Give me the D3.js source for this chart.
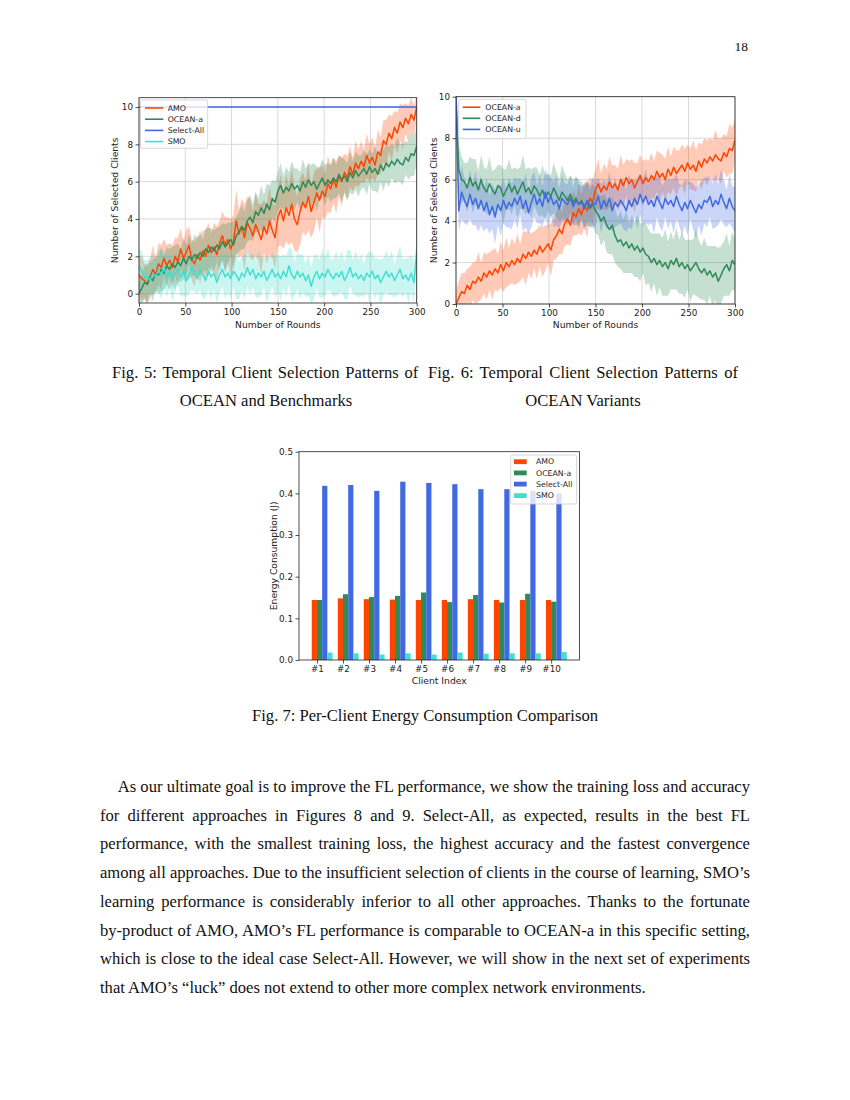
<!DOCTYPE html>
<html><head><meta charset="utf-8">
<script src="https://cdn.jsdelivr.net/npm/d3@7/dist/d3.min.js"></script>
<style>body{margin:0;background:#fff}</style>
</head><body>
<svg id="page" width="850" height="1100" xmlns="http://www.w3.org/2000/svg"></svg>
<script>
// ---------------- DATA ----------------
const rounds = d3.range(0, 301, 3); // round index, every 3 rounds

// Fig. 5 series (mean)
const amo = [
 1.0,0.8,0.7,0.5,0.9,1.3,1.0,1.6,1.4,1.9,
 1.5,1.8,1.4,2.0,1.7,2.4,1.9,2.2,2.6,1.8,
 1.6,2.1,1.8,2.3,2.0,2.6,2.2,2.5,2.1,2.7,
 3.1,2.6,2.9,2.4,2.8,3.9,3.2,3.6,3.0,3.8,
 3.5,3.1,3.7,3.3,2.9,3.6,3.2,3.9,3.4,3.0,
 4.1,4.5,3.9,4.6,4.2,4.8,4.0,3.7,4.4,4.9,
 4.6,5.2,4.4,4.9,5.4,5.0,5.5,5.2,5.9,5.6,
 6.1,5.7,6.3,6.0,6.5,6.2,6.8,6.4,7.0,6.7,
 7.1,6.8,7.4,7.0,7.3,6.9,7.6,7.4,8.2,8.0,
 8.6,8.3,8.9,8.6,9.2,8.9,9.4,9.1,9.6,9.3,10.0];
const amoSpread = [
 1.0,1.2,0.9,1.1,1.0,1.3,0.9,1.1,1.2,1.0,
 1.1,0.9,1.2,1.0,1.3,1.1,0.9,1.2,1.0,1.1,
 1.2,1.0,1.3,1.1,1.4,1.2,1.0,1.3,1.5,1.2,
 1.3,1.5,1.2,1.6,1.4,1.7,1.3,1.5,1.8,1.4,
 1.6,1.3,1.7,1.5,1.9,1.4,1.6,1.8,1.5,1.7,
 1.6,1.9,1.5,1.8,1.6,2.0,1.7,1.5,1.8,1.6,
 1.5,1.8,1.4,1.6,1.3,1.7,1.4,1.2,1.5,1.3,
 1.2,1.4,1.1,1.3,1.0,1.2,1.1,0.9,1.2,1.0,
 1.1,0.9,1.2,1.0,1.1,0.9,1.2,1.0,1.1,1.3,
 1.0,1.2,0.9,1.1,1.0,1.2,0.8,1.0,0.9,0.8,0.7];
const oceanA = [
 0.0,0.3,0.6,0.5,0.9,0.7,1.1,1.0,1.3,1.1,
 1.5,1.3,1.6,1.4,1.7,1.5,1.9,1.6,2.0,1.8,
 2.1,1.9,2.2,2.0,2.4,2.2,2.5,2.3,2.6,2.4,
 2.8,2.5,2.7,2.9,2.6,3.1,3.3,3.6,3.4,3.9,
 4.1,3.8,4.4,4.2,4.6,4.3,4.8,4.5,5.1,4.9,
 5.5,5.8,5.4,5.7,5.5,5.9,5.6,5.8,5.5,6.0,
 5.7,6.1,5.8,6.0,5.6,5.9,6.2,5.8,6.1,5.9,
 6.2,6.0,6.4,6.1,6.3,6.0,6.5,6.2,6.6,6.3,
 6.5,6.7,6.4,6.8,6.5,6.7,6.4,6.9,6.6,7.0,
 6.8,7.1,6.9,7.2,7.0,6.9,7.3,7.1,7.5,7.4,7.9];
const oceanASpread = [
 0.6,0.8,0.9,1.0,0.8,1.1,0.9,1.0,1.2,0.9,
 1.0,1.1,0.9,1.2,1.0,0.9,1.1,1.0,1.2,0.9,
 1.1,1.0,1.2,0.9,1.1,1.3,1.0,1.1,0.9,1.2,
 1.0,1.2,1.1,0.9,1.3,1.0,1.1,1.2,1.0,1.1,
 1.2,1.0,1.1,0.9,1.2,1.0,1.1,1.3,1.0,1.1,
 1.0,1.2,0.9,1.1,1.0,1.2,1.1,0.9,1.0,1.2,
 1.0,0.9,1.1,1.0,1.2,0.9,1.0,1.1,0.9,1.0,
 1.1,0.9,1.0,1.2,0.9,1.0,1.1,0.9,1.0,1.1,
 0.9,1.0,1.1,0.9,1.0,1.2,1.0,0.9,1.1,1.0,
 1.1,0.9,1.0,1.2,1.0,1.1,0.9,1.0,1.2,1.1,1.0];
const selectAllRounds = [0, 300];
const selectAll = [10, 10];
const smo = [
 1.5,1.2,0.8,1.0,0.7,1.1,0.9,1.3,1.0,1.4,
 0.9,1.2,0.8,1.1,1.3,0.9,1.2,0.7,1.0,1.4,
 1.1,0.8,1.3,1.0,0.7,1.2,0.9,1.1,0.6,1.0,
 1.3,0.9,1.1,0.8,1.2,1.0,0.7,1.1,0.9,1.4,
 1.0,1.3,0.8,1.1,0.9,1.2,0.7,1.0,1.3,0.9,
 1.1,0.8,1.2,0.9,1.5,1.0,0.8,1.2,0.9,1.1,
 0.7,1.0,0.4,0.9,1.2,0.8,1.1,0.9,1.3,1.0,
 0.8,1.1,0.9,1.2,0.7,1.0,1.4,0.9,1.1,0.8,
 1.0,0.7,1.1,0.9,1.2,0.8,1.0,0.6,0.9,1.2,
 0.9,1.1,0.7,1.0,1.3,0.8,1.0,0.7,1.1,0.6,2.2];
const smoSpread = [
 0.9,1.1,1.0,0.8,1.2,1.0,0.9,1.1,1.3,1.0,
 1.1,0.9,1.2,1.0,0.8,1.1,1.3,0.9,1.0,1.2,
 1.0,0.8,1.1,1.3,0.9,1.0,1.2,0.9,1.1,1.0,
 0.9,1.2,1.0,1.1,0.8,1.3,1.0,0.9,1.2,1.0,
 1.1,0.9,1.0,1.3,1.0,0.8,1.2,1.0,0.9,1.1,
 1.0,1.2,0.9,1.1,1.0,1.4,0.9,1.0,1.2,1.0,
 0.9,1.1,1.0,1.2,0.9,1.0,1.3,1.0,1.1,0.9,
 1.0,1.2,0.9,1.1,1.0,1.3,1.0,0.9,1.2,1.0,
 1.1,0.9,1.0,1.4,1.0,1.1,0.9,1.2,1.0,1.1,
 1.0,1.2,0.9,1.1,1.3,1.0,0.9,1.2,1.0,1.1,0.6];

// Fig. 6 series (OCEAN-a shared with Fig. 5)
const oceanD = [
 10.0,6.5,6.0,5.9,5.6,6.1,5.7,5.9,5.5,6.0,
 5.6,5.4,5.8,5.5,5.3,5.7,5.6,5.2,5.5,5.8,
 5.4,5.7,5.3,5.6,5.9,5.4,5.6,5.3,5.7,5.5,
 5.2,5.5,5.1,5.4,5.2,5.6,5.3,5.0,5.4,5.2,
 5.0,5.3,4.9,5.1,4.8,5.0,4.7,4.9,4.6,4.8,
 4.5,4.3,4.0,4.2,3.8,3.6,3.8,3.3,3.0,3.1,
 2.8,3.0,2.7,2.9,2.6,2.8,2.5,2.7,2.4,2.3,
 2.0,2.2,1.9,2.1,1.8,2.0,1.7,2.1,1.9,2.2,
 1.8,2.0,1.7,1.9,1.6,1.8,2.0,1.7,1.5,1.7,
 1.4,1.6,1.3,1.5,1.1,1.4,1.7,1.9,1.6,2.1,1.9];
const oceanDSpread = [
 1.0,1.2,1.1,0.9,1.2,1.0,1.3,1.1,0.9,1.2,
 1.0,1.1,1.3,0.9,1.2,1.0,1.1,1.3,1.0,1.2,
 1.1,0.9,1.2,1.0,1.3,1.1,1.0,1.2,0.9,1.1,
 1.0,1.2,1.1,0.9,1.0,1.2,1.1,1.0,1.3,1.1,
 1.0,0.9,1.1,1.0,1.2,0.9,1.0,1.1,0.9,1.0,
 1.1,1.0,1.2,1.1,1.3,1.2,1.4,1.3,1.2,1.4,
 1.3,1.5,1.2,1.4,1.3,1.5,1.4,1.2,1.5,1.3,
 1.4,1.2,1.5,1.3,1.4,1.6,1.3,1.4,1.2,1.5,
 1.3,1.5,1.4,1.2,1.5,1.3,1.6,1.4,1.3,1.5,
 1.4,1.2,1.5,1.3,1.6,1.4,1.3,1.5,1.2,1.4,1.3];
const oceanU = [
 10.0,4.5,5.4,5.0,4.7,5.3,4.8,5.1,4.6,5.0,
 4.5,4.9,4.3,4.7,4.2,4.8,4.5,5.0,4.6,4.9,
 4.7,5.1,4.8,5.2,4.6,5.0,4.4,4.9,5.3,4.8,
 5.1,4.7,5.4,4.9,5.2,4.8,5.0,4.6,5.1,4.9,
 4.8,5.1,4.7,5.0,4.8,4.9,4.6,5.0,4.7,4.9,
 4.8,5.2,4.6,5.0,4.7,5.1,4.5,4.9,4.7,5.0,
 4.8,4.5,5.0,4.7,5.1,4.8,5.3,4.9,5.2,4.8,
 5.0,4.7,5.2,4.9,4.6,5.1,4.8,5.0,4.7,5.2,
 4.8,4.5,4.9,4.6,5.0,4.7,4.4,4.8,4.6,5.0,
 4.9,5.2,4.7,5.0,4.8,5.3,4.9,4.6,5.1,4.7,4.5];
const oceanUSpread = [
 1.2,1.0,1.3,1.1,0.9,1.2,1.0,1.3,1.1,1.2,
 1.0,1.2,0.9,1.1,1.3,1.0,1.2,1.1,0.9,1.2,
 1.1,1.0,1.2,0.9,1.1,1.3,1.0,1.2,1.1,0.9,
 1.2,1.0,1.1,1.3,0.9,1.1,1.2,1.0,1.1,0.9,
 1.0,1.1,0.9,1.2,1.0,0.8,1.1,0.9,1.0,1.2,
 1.1,0.9,1.2,1.0,1.1,1.3,1.0,1.2,0.9,1.1,
 1.2,1.0,1.3,1.1,0.9,1.2,1.0,1.1,1.3,1.0,
 1.1,1.3,1.0,1.2,1.1,0.9,1.2,1.0,1.3,1.1,
 1.0,1.2,1.1,1.3,0.9,1.1,1.2,1.0,1.3,1.1,
 1.2,1.0,1.1,1.3,1.0,1.2,1.1,0.9,1.2,1.0,1.1];

// Fig. 7 per-client energy (J)
const clients = ["#1","#2","#3","#4","#5","#6","#7","#8","#9","#10"];
const energyAMO       = [0.144,0.148,0.146,0.145,0.144,0.144,0.146,0.144,0.144,0.144];
const energyOCEANa    = [0.144,0.158,0.151,0.154,0.162,0.139,0.156,0.138,0.159,0.140];
const energySelectAll = [0.418,0.420,0.406,0.428,0.425,0.422,0.410,0.410,0.406,0.400];
const energySMO       = [0.018,0.016,0.013,0.016,0.013,0.018,0.015,0.016,0.016,0.019];

const roundTicks = [0,50,100,150,200,250,300];
const clientTicks6 = [0,2,4,6,8,10];
const energyTicks = [0,0.1,0.2,0.3,0.4,0.5];

// ---------------- STYLE ----------------
const C = {orange:"#ff4500", green:"#2e8b57", blue:"#4169e1", cyan:"#40e0d0"};
const SANS = "DejaVu Sans, sans-serif";
const SERIF = "Liberation Serif, Times New Roman, serif";
const svg = d3.select("#page");
svg.append("rect").attr("width",850).attr("height",1100).attr("fill","#fff");

function styleAxis(g){
  g.select(".domain").remove();
  g.selectAll(".tick line").attr("stroke","#222").attr("stroke-width",0.8);
  g.selectAll(".tick text").attr("fill","#222").style("font-family",SANS).style("font-size","8.8px");
}

function legend(g, box, items, type){
  g.append("rect").attr("x",box.x0).attr("y",box.y0)
   .attr("width",box.x1-box.x0).attr("height",box.y1-box.y0)
   .attr("rx",2).attr("fill","#fff").attr("fill-opacity",0.8)
   .attr("stroke","#cccccc").attr("stroke-width",0.8);
  items.forEach((it,i)=>{
    const yy = box.ys[i];
    if(type==="line"){
      g.append("line").attr("x1",box.hx0).attr("x2",box.hx1).attr("y1",yy).attr("y2",yy)
       .attr("stroke",it.color).attr("stroke-width",1.6);
    } else {
      g.append("rect").attr("x",box.hx0).attr("y",yy-2.4).attr("width",box.hx1-box.hx0).attr("height",4.8)
       .attr("fill",it.color);
    }
    g.append("text").attr("x",box.tx).attr("y",yy).attr("dy","0.35em")
     .style("font-family",SANS).style("font-size","7.8px").attr("fill","#222").text(it.name);
  });
}

let clipId = 0;
function lineChart(o){
  const g = svg.append("g");
  const x = d3.scaleLinear().domain([0,300]).range([o.left,o.right]);
  const y = d3.scaleLinear().domain(o.yDomain).range([o.bottom,o.top]);
  // grid
  g.append("g").selectAll("line").data(roundTicks).join("line")
    .attr("x1",d=>x(d)).attr("x2",d=>x(d)).attr("y1",o.top).attr("y2",o.bottom)
    .attr("stroke","#cfcfcf").attr("stroke-width",0.8);
  g.append("g").selectAll("line").data(clientTicks6).join("line")
    .attr("x1",o.left).attr("x2",o.right).attr("y1",d=>y(d)).attr("y2",d=>y(d))
    .attr("stroke","#cfcfcf").attr("stroke-width",0.8);
  const id = "clip"+(clipId++);
  g.append("clipPath").attr("id",id).append("rect")
    .attr("x",o.left).attr("y",o.top).attr("width",o.right-o.left).attr("height",o.bottom-o.top);
  const plot = g.append("g").attr("clip-path",`url(#${id})`);
  o.series.forEach(s=>{
    if(!s.spread) return;
    const area = d3.area().x((d,i)=>x(s.xs[i])).y0((d,i)=>y(d-s.spread[i])).y1((d,i)=>y(d+s.spread[i]));
    plot.append("path").attr("d",area(s.values)).attr("fill",s.color).attr("fill-opacity",0.28);
  });
  o.series.forEach(s=>{
    const line = d3.line().x((d,i)=>x(s.xs[i])).y(d=>y(d));
    plot.append("path").attr("d",line(s.values)).attr("fill","none")
      .attr("stroke",s.color).attr("stroke-width",1.5).attr("stroke-linejoin","round");
  });
  // axes
  const ax = g.append("g").attr("transform",`translate(0,${o.bottom})`)
    .call(d3.axisBottom(x).tickValues(roundTicks).tickSize(3.5).tickPadding(2.5).tickFormat(d3.format("d")));
  styleAxis(ax);
  const ay = g.append("g").attr("transform",`translate(${o.left},0)`)
    .call(d3.axisLeft(y).tickValues(clientTicks6).tickSize(3.5).tickPadding(2.5).tickFormat(d3.format("d")));
  styleAxis(ay);
  g.append("rect").attr("x",o.left).attr("y",o.top).attr("width",o.right-o.left).attr("height",o.bottom-o.top)
    .attr("fill","none").attr("stroke","#222").attr("stroke-width",0.8);
  g.append("text").attr("x",(o.left+o.right)/2).attr("y",o.xLabelY).attr("text-anchor","middle").attr("dy","0.35em")
    .style("font-family",SANS).style("font-size","9.2px").attr("fill","#222").text("Number of Rounds");
  g.append("text").attr("transform",`translate(${o.yLabelX},${(o.top+o.bottom)/2}) rotate(-90)`)
    .attr("text-anchor","middle").attr("dy","0.35em")
    .style("font-family",SANS).style("font-size","9.2px").attr("fill","#222").text("Number of Selected Clients");
  legend(g, o.legendBox, o.series.map(s=>({name:s.name,color:s.color})), "line");
}

// Fig. 5
lineChart({
  left:139, right:416.7, top:97.7, bottom:303, yDomain:[-0.5,10.5],
  xLabelY:324.3, yLabelX:115,
  series:[
    {name:"AMO", color:C.orange, xs:rounds, values:amo, spread:amoSpread},
    {name:"OCEAN-a", color:C.green, xs:rounds, values:oceanA, spread:oceanASpread},
    {name:"Select-All", color:C.blue, xs:selectAllRounds, values:selectAll},
    {name:"SMO", color:C.cyan, xs:rounds, values:smo, spread:smoSpread}
  ],
  legendBox:{x0:140.5,x1:207.7,y0:100,y1:148.3,ys:[108,119.2,130.4,141.6],hx0:145,hx1:163.3,tx:167.7}
});

// Fig. 6
lineChart({
  left:456, right:735, top:96.7, bottom:304, yDomain:[0,10],
  xLabelY:324.3, yLabelX:433.3,
  series:[
    {name:"OCEAN-a", color:C.orange, xs:rounds, values:oceanA, spread:oceanASpread},
    {name:"OCEAN-d", color:C.green, xs:rounds, values:oceanD, spread:oceanDSpread},
    {name:"OCEAN-u", color:C.blue, xs:rounds, values:oceanU, spread:oceanUSpread}
  ],
  legendBox:{x0:458.7,x1:526,y0:99.3,y1:138.7,ys:[107.2,118.3,129.4],hx0:462.7,hx1:480.3,tx:485.3}
});

// Fig. 7 bar chart
(function(){
  const g = svg.append("g");
  const L=299, R=579.5, T=451.7, B=660;
  const x = d3.scaleLinear().domain([-0.59,10.19]).range([L,R]);
  const y = d3.scaleLinear().domain([0,0.5]).range([B,T]);
  const series = [
    {name:"AMO", color:C.orange, values:energyAMO},
    {name:"OCEAN-a", color:C.green, values:energyOCEANa},
    {name:"Select-All", color:C.blue, values:energySelectAll},
    {name:"SMO", color:C.cyan, values:energySMO}
  ];
  const bw = 0.2;
  series.forEach((s,k)=>{
    g.append("g").selectAll("rect").data(s.values).join("rect")
      .attr("x",(d,i)=>x(i + k*bw - bw/2)).attr("width",x(bw)-x(0))
      .attr("y",d=>y(d)).attr("height",d=>y(0)-y(d)).attr("fill",s.color);
  });
  const ax = g.append("g").attr("transform",`translate(0,${B})`)
    .call(d3.axisBottom(x).tickValues(clients.map((c,i)=>i+0.1)).tickSize(3.5).tickPadding(2.5)
      .tickFormat((d,i)=>clients[i]));
  styleAxis(ax);
  const ay = g.append("g").attr("transform",`translate(${L},0)`)
    .call(d3.axisLeft(y).tickValues(energyTicks).tickSize(3.5).tickPadding(2.5).tickFormat(d3.format(".1f")));
  styleAxis(ay);
  g.append("rect").attr("x",L).attr("y",T).attr("width",R-L).attr("height",B-T)
    .attr("fill","none").attr("stroke","#222").attr("stroke-width",0.8);
  g.append("text").attr("x",(L+R)/2).attr("y",680.5).attr("text-anchor","middle").attr("dy","0.35em")
    .style("font-family",SANS).style("font-size","9.2px").attr("fill","#222").text("Client Index");
  g.append("text").attr("transform",`translate(274,${(T+B)/2}) rotate(-90)`)
    .attr("text-anchor","middle").attr("dy","0.35em")
    .style("font-family",SANS).style("font-size","9.2px").attr("fill","#222").text("Energy Consumption (J)");
  legend(g,{x0:510.7,x1:576.7,y0:455,y1:504,ys:[461.7,472.9,484.1,495.6],hx0:514,hx1:526.7,tx:536},
    series.map(s=>({name:s.name,color:s.color})),"patch");
})();

// ---------------- TEXT ----------------
const FS = 16.6;
function txt(x,y,s,anchor){
  return svg.append("text").attr("x",x).attr("y",y).attr("text-anchor",anchor||"start")
    .style("font-family",SERIF).style("font-size",FS+"px").attr("fill","#111").text(s);
}
function justify(t,x0,x1){
  const w = t.node().getComputedTextLength();
  const n = (t.text().match(/ /g)||[]).length;
  if(n>0) t.style("word-spacing",((x1-x0-w)/n)+"px");
}
svg.append("text").attr("x",748).attr("y",51).attr("text-anchor","end")
  .style("font-family",SERIF).style("font-size","13.5px").attr("fill","#111").text("18");

justify(txt(112,378,"Fig. 5:  Temporal Client Selection Patterns of"),112,420);
txt(266,406,"OCEAN and Benchmarks","middle");
justify(txt(428,378,"Fig. 6: Temporal Client Selection Patterns of"),428,738);
txt(583,406,"OCEAN Variants","middle");
txt(425,721,"Fig. 7: Per-Client Energy Consumption Comparison","middle");

const para = [
 "As our ultimate goal is to improve the FL performance, we show the training loss and accuracy",
 "for different approaches in Figures 8 and 9. Select-All, as expected, results in the best FL",
 "performance, with the smallest training loss, the highest accuracy and the fastest convergence",
 "among all approaches. Due to the insufficient selection of clients in the course of learning, SMO\u2019s",
 "learning performance is considerably inferior to all other approaches. Thanks to the fortunate",
 "by-product of AMO, AMO\u2019s FL performance is comparable to OCEAN-a in this specific setting,",
 "which is close to the ideal case Select-All. However, we will show in the next set of experiments",
 "that AMO\u2019s \u201cluck\u201d does not extend to other more complex network environments."
];
para.forEach((s,i)=>{
  const x0 = i===0 ? 117.7 : 100;
  const t = txt(x0, 792 + i*28.7, s);
  if(i < para.length-1) justify(t, x0, 750);
});
</script>
</body></html>
